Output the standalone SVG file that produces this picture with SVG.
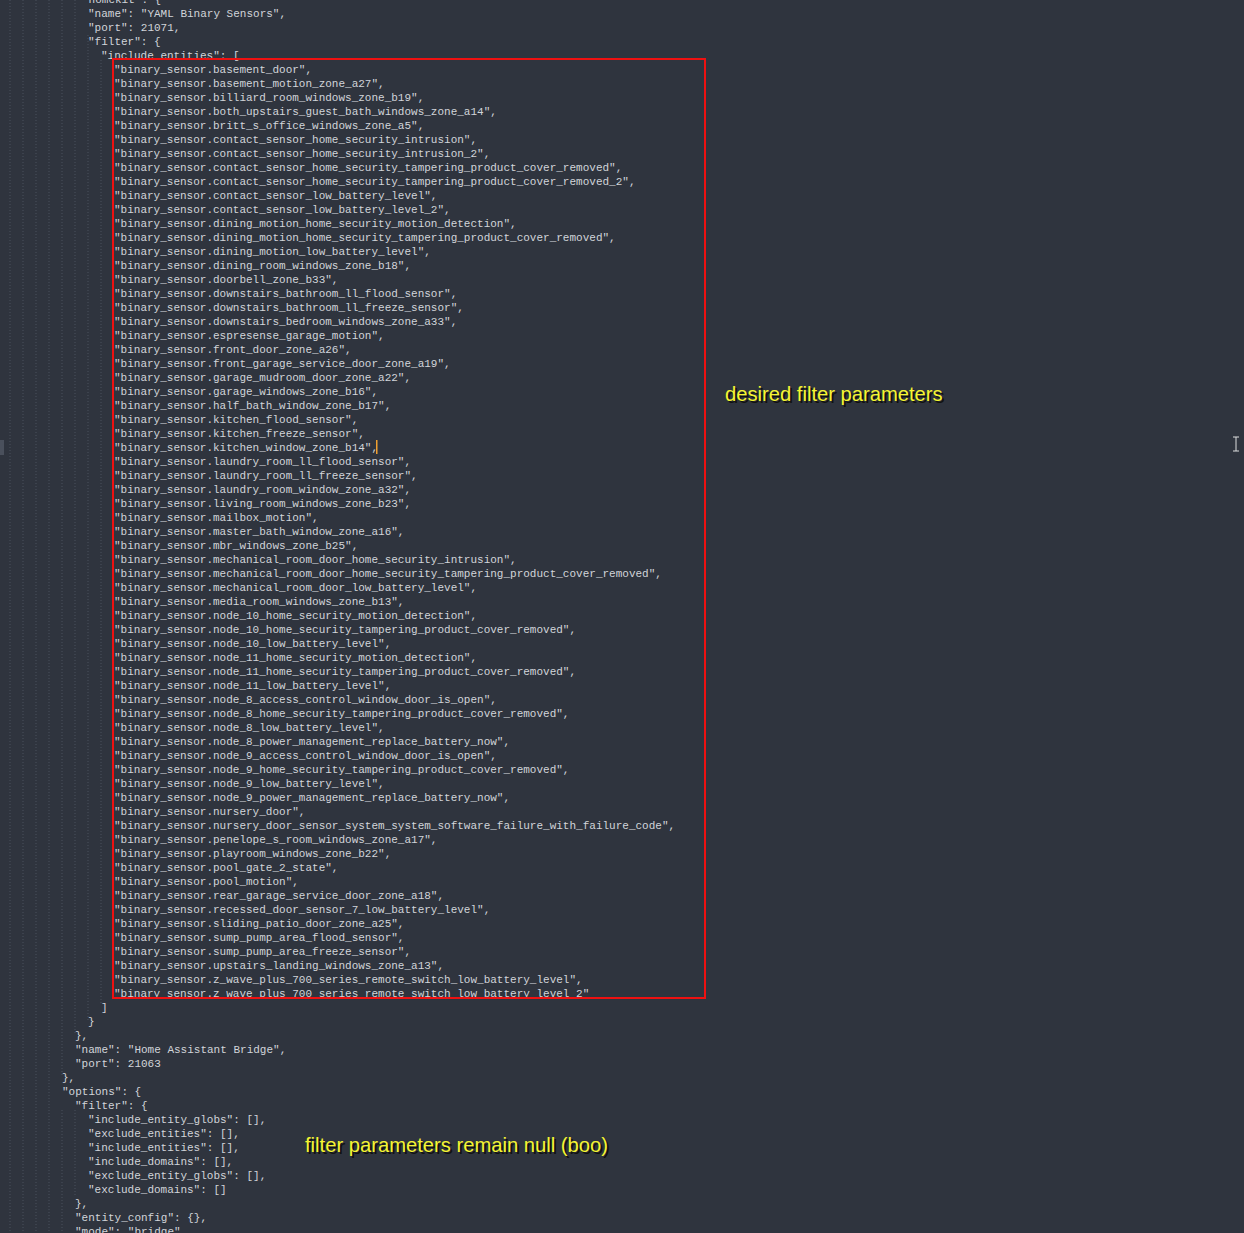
<svg xmlns="http://www.w3.org/2000/svg" width="1244" height="1233" viewBox="0 0 1244 1233">
<defs>
<style>
.c{font-family:"Liberation Mono",monospace;font-size:11px;fill:#d2d5da;white-space:pre}
.g{stroke:#4a505c;stroke-width:1;stroke-dasharray:1 2}
.a{font-family:"Liberation Sans",Arial,sans-serif;font-size:20.2px;fill:#f5f532}
.s{font-family:"Liberation Sans",Arial,sans-serif;font-size:20.2px;fill:#111}
</style>
</defs>
<rect width="1244" height="1233" fill="#2f343e"/>
<g id="guides">
<line class="g" x1="10" y1="0" x2="10" y2="1233"/>
<line class="g" x1="23" y1="0" x2="23" y2="1233"/>
<line class="g" x1="36" y1="0" x2="36" y2="1233"/>
<line class="g" x1="49" y1="0" x2="49" y2="1233"/>
<line class="g" x1="62" y1="0" x2="62" y2="1075"/>
<line class="g" x1="75" y1="0" x2="75" y2="1035"/>
<line class="g" x1="62" y1="1110" x2="62" y2="1233"/>
<line class="g" x1="75" y1="1110" x2="75" y2="1195"/>
<line class="g" x1="88" y1="35" x2="88" y2="1020"/>
<line class="g" x1="101" y1="60" x2="101" y2="1005"/>
<rect x="0" y="440" width="4" height="15" fill="#4a505c"/>
</g>
<g id="code">
<text class="c" x="82" y="3">"homekit": {</text>
<text class="c" x="88" y="17">"name": "YAML Binary Sensors",</text>
<text class="c" x="88" y="31">"port": 21071,</text>
<text class="c" x="88" y="45">"filter": {</text>
<text class="c" x="101" y="59">"include_entities": [</text>
<text class="c" x="114" y="73">"binary_sensor.basement_door",</text>
<text class="c" x="114" y="87">"binary_sensor.basement_motion_zone_a27",</text>
<text class="c" x="114" y="101">"binary_sensor.billiard_room_windows_zone_b19",</text>
<text class="c" x="114" y="115">"binary_sensor.both_upstairs_guest_bath_windows_zone_a14",</text>
<text class="c" x="114" y="129">"binary_sensor.britt_s_office_windows_zone_a5",</text>
<text class="c" x="114" y="143">"binary_sensor.contact_sensor_home_security_intrusion",</text>
<text class="c" x="114" y="157">"binary_sensor.contact_sensor_home_security_intrusion_2",</text>
<text class="c" x="114" y="171">"binary_sensor.contact_sensor_home_security_tampering_product_cover_removed",</text>
<text class="c" x="114" y="185">"binary_sensor.contact_sensor_home_security_tampering_product_cover_removed_2",</text>
<text class="c" x="114" y="199">"binary_sensor.contact_sensor_low_battery_level",</text>
<text class="c" x="114" y="213">"binary_sensor.contact_sensor_low_battery_level_2",</text>
<text class="c" x="114" y="227">"binary_sensor.dining_motion_home_security_motion_detection",</text>
<text class="c" x="114" y="241">"binary_sensor.dining_motion_home_security_tampering_product_cover_removed",</text>
<text class="c" x="114" y="255">"binary_sensor.dining_motion_low_battery_level",</text>
<text class="c" x="114" y="269">"binary_sensor.dining_room_windows_zone_b18",</text>
<text class="c" x="114" y="283">"binary_sensor.doorbell_zone_b33",</text>
<text class="c" x="114" y="297">"binary_sensor.downstairs_bathroom_ll_flood_sensor",</text>
<text class="c" x="114" y="311">"binary_sensor.downstairs_bathroom_ll_freeze_sensor",</text>
<text class="c" x="114" y="325">"binary_sensor.downstairs_bedroom_windows_zone_a33",</text>
<text class="c" x="114" y="339">"binary_sensor.espresense_garage_motion",</text>
<text class="c" x="114" y="353">"binary_sensor.front_door_zone_a26",</text>
<text class="c" x="114" y="367">"binary_sensor.front_garage_service_door_zone_a19",</text>
<text class="c" x="114" y="381">"binary_sensor.garage_mudroom_door_zone_a22",</text>
<text class="c" x="114" y="395">"binary_sensor.garage_windows_zone_b16",</text>
<text class="c" x="114" y="409">"binary_sensor.half_bath_window_zone_b17",</text>
<text class="c" x="114" y="423">"binary_sensor.kitchen_flood_sensor",</text>
<text class="c" x="114" y="437">"binary_sensor.kitchen_freeze_sensor",</text>
<text class="c" x="114" y="451">"binary_sensor.kitchen_window_zone_b14",</text>
<text class="c" x="114" y="465">"binary_sensor.laundry_room_ll_flood_sensor",</text>
<text class="c" x="114" y="479">"binary_sensor.laundry_room_ll_freeze_sensor",</text>
<text class="c" x="114" y="493">"binary_sensor.laundry_room_window_zone_a32",</text>
<text class="c" x="114" y="507">"binary_sensor.living_room_windows_zone_b23",</text>
<text class="c" x="114" y="521">"binary_sensor.mailbox_motion",</text>
<text class="c" x="114" y="535">"binary_sensor.master_bath_window_zone_a16",</text>
<text class="c" x="114" y="549">"binary_sensor.mbr_windows_zone_b25",</text>
<text class="c" x="114" y="563">"binary_sensor.mechanical_room_door_home_security_intrusion",</text>
<text class="c" x="114" y="577">"binary_sensor.mechanical_room_door_home_security_tampering_product_cover_removed",</text>
<text class="c" x="114" y="591">"binary_sensor.mechanical_room_door_low_battery_level",</text>
<text class="c" x="114" y="605">"binary_sensor.media_room_windows_zone_b13",</text>
<text class="c" x="114" y="619">"binary_sensor.node_10_home_security_motion_detection",</text>
<text class="c" x="114" y="633">"binary_sensor.node_10_home_security_tampering_product_cover_removed",</text>
<text class="c" x="114" y="647">"binary_sensor.node_10_low_battery_level",</text>
<text class="c" x="114" y="661">"binary_sensor.node_11_home_security_motion_detection",</text>
<text class="c" x="114" y="675">"binary_sensor.node_11_home_security_tampering_product_cover_removed",</text>
<text class="c" x="114" y="689">"binary_sensor.node_11_low_battery_level",</text>
<text class="c" x="114" y="703">"binary_sensor.node_8_access_control_window_door_is_open",</text>
<text class="c" x="114" y="717">"binary_sensor.node_8_home_security_tampering_product_cover_removed",</text>
<text class="c" x="114" y="731">"binary_sensor.node_8_low_battery_level",</text>
<text class="c" x="114" y="745">"binary_sensor.node_8_power_management_replace_battery_now",</text>
<text class="c" x="114" y="759">"binary_sensor.node_9_access_control_window_door_is_open",</text>
<text class="c" x="114" y="773">"binary_sensor.node_9_home_security_tampering_product_cover_removed",</text>
<text class="c" x="114" y="787">"binary_sensor.node_9_low_battery_level",</text>
<text class="c" x="114" y="801">"binary_sensor.node_9_power_management_replace_battery_now",</text>
<text class="c" x="114" y="815">"binary_sensor.nursery_door",</text>
<text class="c" x="114" y="829">"binary_sensor.nursery_door_sensor_system_system_software_failure_with_failure_code",</text>
<text class="c" x="114" y="843">"binary_sensor.penelope_s_room_windows_zone_a17",</text>
<text class="c" x="114" y="857">"binary_sensor.playroom_windows_zone_b22",</text>
<text class="c" x="114" y="871">"binary_sensor.pool_gate_2_state",</text>
<text class="c" x="114" y="885">"binary_sensor.pool_motion",</text>
<text class="c" x="114" y="899">"binary_sensor.rear_garage_service_door_zone_a18",</text>
<text class="c" x="114" y="913">"binary_sensor.recessed_door_sensor_7_low_battery_level",</text>
<text class="c" x="114" y="927">"binary_sensor.sliding_patio_door_zone_a25",</text>
<text class="c" x="114" y="941">"binary_sensor.sump_pump_area_flood_sensor",</text>
<text class="c" x="114" y="955">"binary_sensor.sump_pump_area_freeze_sensor",</text>
<text class="c" x="114" y="969">"binary_sensor.upstairs_landing_windows_zone_a13",</text>
<text class="c" x="114" y="983">"binary_sensor.z_wave_plus_700_series_remote_switch_low_battery_level",</text>
<text class="c" x="114" y="997">"binary_sensor.z_wave_plus_700_series_remote_switch_low_battery_level_2"</text>
<text class="c" x="101" y="1011">]</text>
<text class="c" x="88" y="1025">}</text>
<text class="c" x="75" y="1039">},</text>
<text class="c" x="75" y="1053">"name": "Home Assistant Bridge",</text>
<text class="c" x="75" y="1067">"port": 21063</text>
<text class="c" x="62" y="1081">},</text>
<text class="c" x="62" y="1095">"options": {</text>
<text class="c" x="75" y="1109">"filter": {</text>
<text class="c" x="88" y="1123">"include_entity_globs": [],</text>
<text class="c" x="88" y="1137">"exclude_entities": [],</text>
<text class="c" x="88" y="1151">"include_entities": [],</text>
<text class="c" x="88" y="1165">"include_domains": [],</text>
<text class="c" x="88" y="1179">"exclude_entity_globs": [],</text>
<text class="c" x="88" y="1193">"exclude_domains": []</text>
<text class="c" x="75" y="1207">},</text>
<text class="c" x="75" y="1221">"entity_config": {},</text>
<text class="c" x="75" y="1235">"mode": "bridge",</text>
<rect x="376" y="440" width="1.5" height="14" fill="#f0a030"/>
<path d="M1233 437h6M1236 437v14M1233 451h6" stroke="#ddd" stroke-width="1" fill="none"/>
</g>
<g id="highlight">
<rect x="113" y="59" width="592" height="939" fill="none" stroke="#ee1111" stroke-width="2"/>
</g>
<g id="annotations">
<text class="s" x="727" y="403">desired filter parameters</text>
<text class="a" x="725" y="401">desired filter parameters</text>
<text class="s" x="307" y="1154">filter parameters remain null (boo)</text>
<text class="a" x="305" y="1152">filter parameters remain null (boo)</text>
</g>
</svg>
